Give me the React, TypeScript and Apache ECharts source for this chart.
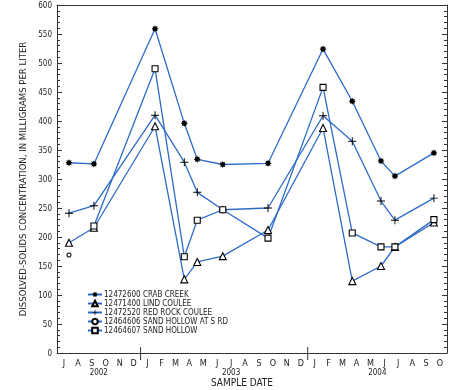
import React, { useEffect, useRef } from "react";
import * as echarts from "echarts";

// Sample dates as months since 1 July 2002
const sampleMonths = [0.86, 2.65, 7.04, 9.14, 10.07, 11.9, 15.15, 19.1, 21.2, 23.26, 24.26, 27.06];
const monthLabels = ["J","A","S","O","N","D","J","F","M","A","M","J","J","A","S","O","N","D","J","F","M","A","M","J","J","A","S","O"];
const yearLabels = ["2002", "2003", "2004"];
const yearCenters = [3, 12.5, 23];
const yearDividers = [6, 18];

const crabCreek = [328, 326, 559, 396, 334, 325, 327, 524, 434, 331, 305, 345];
const lindCoulee = [190, 216, 391, 127, 157, 167, 212, 388, 124, 150, 183, 225];
const redRockCoulee = [241, 254, 410, 329, 277, 247, 250, 409, 365, 262, 229, 267];
const sandHollowSRd = [169, null, null, null, null, null, null, null, null, null, null, null];
const sandHollow = [null, 219, 490, 166, 229, 247, 198, 458, 207, 183, 183, 230];

const seriesNames = [
  "12472600 CRAB CREEK",
  "12471400 LIND COULEE",
  "12472520 RED ROCK COULEE",
  "12464606 SAND HOLLOW AT S RD",
  "12464607 SAND HOLLOW",
];

function starPath(): string {
  const pts: string[] = [];
  const n = 8;
  for (let i = 0; i < n * 2; i++) {
    const r = i % 2 === 0 ? 5 : 3.2;
    const a = (Math.PI * i) / n - Math.PI / 2;
    pts.push(`${(5 + r * Math.cos(a)).toFixed(2)},${(5 + r * Math.sin(a)).toFixed(2)}`);
  }
  return "path://M" + pts.join("L") + "Z";
}
const plusPath = "path://M4.4,0H5.6V4.4H10V5.6H5.6V10H4.4V5.6H0V4.4H4.4Z";

const FONT = "'Liberation Sans Narrow', 'DejaVu Sans Condensed', 'Roboto Condensed', sans-serif";
const LINE = "#2d6bc8";
const AXIS = "#333";

function pair(vals: (number | null)[]) {
  return sampleMonths.map((m, i) => [m, vals[i]]).filter((p) => p[1] !== null);
}

export default function App() {
  const ref = useRef<HTMLDivElement>(null);
  useEffect(() => {
    if (!ref.current) return;
    const chart = echarts.init(ref.current, undefined, { renderer: "svg" });
    const mk = (name: string, vals: (number | null)[], symbol: string, size: number, filled: boolean) => ({
      name,
      type: "line",
      data: pair(vals),
      xAxisIndex: 0,
      yAxisIndex: 0,
      symbol,
      symbolSize: size,
      showAllSymbol: true,
      lineStyle: { color: LINE, width: 1.3 },
      itemStyle: filled
        ? { color: "#000", borderWidth: 0 }
        : { color: "#fff", borderColor: "#000", borderWidth: 1.1 },
      z: 3,
    });
    chart.setOption({
      animation: false,
      grid: { left: 57, top: 5, right: 27, bottom: 37, containLabel: false },
      legend: {
        orient: "vertical",
        left: 87,
        top: 290,
        padding: 0,
        itemWidth: 14,
        itemHeight: 7,
        itemGap: 0,
        data: seriesNames,
        textStyle: { fontFamily: FONT, fontSize: 8, lineHeight: 9, color: "#222", padding: [0, 0, 0, -3] },
      },
      xAxis: [
        {
          type: "value",
          min: 0,
          max: 28,
          show: false,
        },
        {
          type: "category",
          position: "bottom",
          data: monthLabels,
          boundaryGap: true,
          axisLine: { lineStyle: { color: AXIS, width: 1 } },
          axisTick: { inside: true, length: 4, alignWithLabel: false, lineStyle: { color: AXIS } },
          axisLabel: { fontFamily: FONT, fontSize: 9, color: "#222", margin: 5, interval: 0 },
        },
        {
          type: "category",
          position: "top",
          data: monthLabels,
          boundaryGap: true,
          axisLine: { lineStyle: { color: AXIS, width: 1 } },
          axisTick: { inside: true, length: 4, alignWithLabel: false, lineStyle: { color: AXIS } },
          axisLabel: { show: false },
        },
      ],
      yAxis: [
        {
          type: "value",
          min: 0,
          max: 600,
          interval: 50,
          name: "DISSOLVED-SOLIDS CONCENTRATION, IN MILLIGRAMS PER LITER",
          nameLocation: "middle",
          nameGap: 21,
          nameTextStyle: { fontFamily: FONT, fontSize: 9.5, color: "#222" },
          axisLine: { show: true, lineStyle: { color: AXIS, width: 1 } },
          axisTick: { show: true, inside: true, length: 5, lineStyle: { color: AXIS } },
          minorTick: { show: true, splitNumber: 5, length: 3, lineStyle: { color: AXIS } },
          splitLine: { show: false },
          axisLabel: { fontFamily: FONT, fontSize: 8, color: "#222", margin: 5 },
        },
        {
          type: "value",
          min: 0,
          max: 600,
          interval: 50,
          position: "right",
          axisLine: { show: true, lineStyle: { color: AXIS, width: 1 } },
          axisTick: { show: true, inside: true, length: 5, lineStyle: { color: AXIS } },
          minorTick: { show: true, splitNumber: 5, length: 3, lineStyle: { color: AXIS } },
          splitLine: { show: false },
          axisLabel: { show: false },
        },
      ],
      series: [
        mk(seriesNames[0], crabCreek, starPath(), 7, true),
        mk(seriesNames[1], lindCoulee, "triangle", 7, false),
        mk(seriesNames[2], redRockCoulee, plusPath, 8, true),
        mk(seriesNames[3], sandHollowSRd, "circle", 4, false),
        mk(seriesNames[4], sandHollow, "rect", 6, false),
      ],
    });

    const yBase = chart.convertToPixel({ yAxisIndex: 0 }, 0) as number;
    const graphics: any[] = [];
    yearDividers.forEach((m) => {
      const x = chart.convertToPixel({ xAxisIndex: 0 }, m) as number;
      graphics.push({
        type: "line",
        shape: { x1: x, y1: yBase - 6, x2: x, y2: yBase + 7 },
        style: { stroke: AXIS, lineWidth: 1 },
      });
    });
    yearLabels.forEach((t, i) => {
      const x = chart.convertToPixel({ xAxisIndex: 0 }, yearCenters[i]) as number;
      graphics.push({
        type: "text",
        x,
        y: yBase + 19,
        style: { text: t, fontFamily: FONT, fontSize: 8, fill: "#222", align: "center", verticalAlign: "middle" },
      });
    });
    const x0 = chart.convertToPixel({ xAxisIndex: 0 }, 0) as number;
    const x1 = chart.convertToPixel({ xAxisIndex: 0 }, 28) as number;
    graphics.push({
      type: "text",
      x: (x0 + x1) / 2 - 10,
      y: yBase + 29,
      style: { text: "SAMPLE DATE", fontFamily: FONT, fontSize: 10, fill: "#222", align: "center", verticalAlign: "middle" },
    });
    chart.setOption({ graphic: graphics });

    return () => chart.dispose();
  }, []);
  return <div ref={ref} style={{ position: "fixed", left: 0, top: 0, width: 474, height: 390 }} />;
}
